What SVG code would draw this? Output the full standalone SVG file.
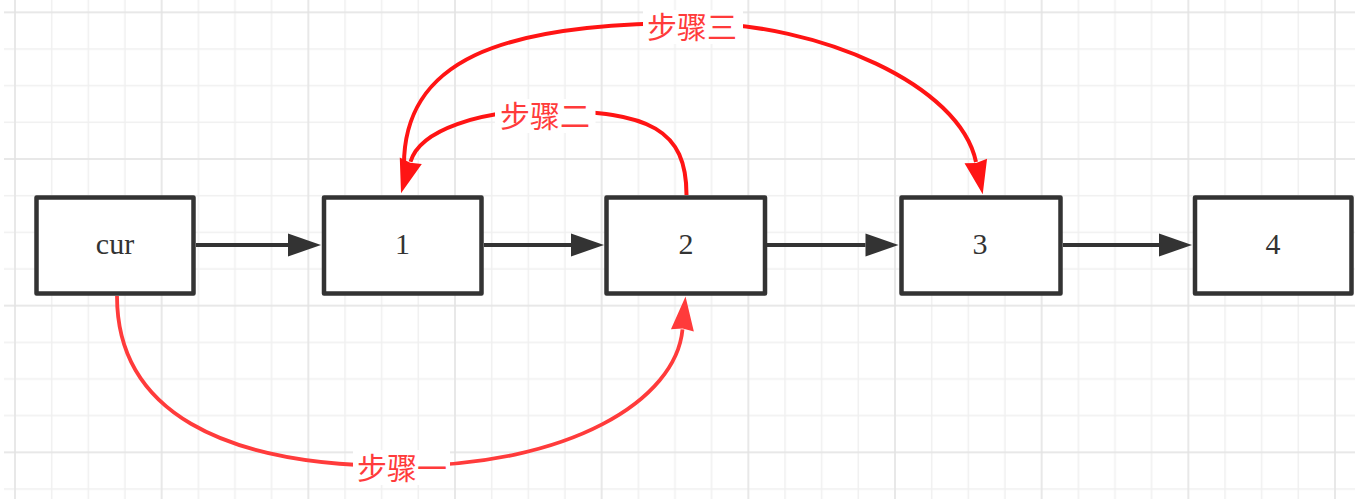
<svg xmlns="http://www.w3.org/2000/svg" width="1355" height="499" viewBox="0 0 1355 499">
<style>
.node rect{fill:#fff;stroke:#333;stroke-width:4.5;stroke-linejoin:round}
.node text{font-family:"Liberation Serif",serif;font-size:30px;fill:#333;text-anchor:middle}
.blk{fill:none;stroke:#333;stroke-width:4}
.red{fill:none;stroke:#ff1414;stroke-width:4}
.red1{fill:none;stroke:#ff3b3b;stroke-width:3.8}
.lbl rect{fill:#fff}
.lbl text{font-family:"Noto Sans CJK SC",sans-serif;font-size:30px;fill:#ff3b3b;text-anchor:middle}
</style>
<defs>
<pattern id="grid" patternUnits="userSpaceOnUse" x="14" y="11.333" width="146.667" height="146.667">
<path d="M1,0V146.667M37.667,0V146.667M74.333,0V146.667M111,0V146.667M0,1H146.667M0,37.667H146.667M0,74.333H146.667M0,111H146.667" stroke="#f0f0f0" stroke-width="1.5" fill="none"/>
<path d="M1,0V146.667M0,1H146.667" stroke="#e4e4e4" stroke-width="1.5" fill="none"/>
</pattern>
<marker id="ab" markerUnits="userSpaceOnUse" markerWidth="34" markerHeight="24" refX="0" refY="11.5" orient="auto" overflow="visible">
<path d="M0,0 L33,11.5 L0,23 z" fill="#333"/>
</marker>
<marker id="ar" markerUnits="userSpaceOnUse" markerWidth="35" markerHeight="24" refX="1" refY="11.5" orient="auto" overflow="visible">
<path d="M0,0 L34,11.5 L0,23 L2,11.5 z" fill="#ff1414"/>
</marker>
<marker id="ar1" markerUnits="userSpaceOnUse" markerWidth="35" markerHeight="24" refX="1" refY="11.5" orient="auto" overflow="visible">
<path d="M0,0 L34,11.5 L0,23 L2,11.5 z" fill="#ff3b3b"/>
</marker>
</defs>
<rect x="0" y="0" width="1355" height="499" fill="#fff"/>
<rect x="4" y="0" width="1351" height="499" fill="url(#grid)"/>

<g id="node-cur" class="node"><rect x="36.5" y="197.5" width="157" height="96"/><text x="115" y="254">cur</text></g>
<g id="node-1" class="node"><rect x="324" y="197.5" width="157.5" height="96"/><text x="402.5" y="254">1</text></g>
<g id="node-2" class="node"><rect x="606.5" y="197.5" width="158.5" height="96"/><text x="686" y="254">2</text></g>
<g id="node-3" class="node"><rect x="901.5" y="197.5" width="159" height="96"/><text x="980" y="254">3</text></g>
<g id="node-4" class="node"><rect x="1195" y="197.5" width="156.5" height="96"/><text x="1273" y="254">4</text></g>

<g id="connectors">
<path class="blk" d="M196,245 H288" marker-end="url(#ab)"/>
<path class="blk" d="M484,245 H571" marker-end="url(#ab)"/>
<path class="blk" d="M767,245 H865.5" marker-end="url(#ab)"/>
<path class="blk" d="M1063,245 H1159" marker-end="url(#ab)"/>
<path class="red1" d="M117,296 C117,410 220,466 400,466 C570,466 676,400 682.5,329.4" marker-end="url(#ar1)"/>
<path class="red" d="M404,170 C401,60 500,23 692,23 C820,23 960,85 976,162" marker-end="url(#ar)"/>
<path class="red" d="M686.5,195 C686.5,130 650,111 548,111 C480,110 420,130 410.5,161.7" marker-end="url(#ar)"/>
<g class="lbl">
<rect x="643" y="10" width="100" height="34"/><text x="692" y="38">步骤三</text>
<rect x="495" y="99" width="100.5" height="34"/><text x="545" y="127">步骤二</text>
<rect x="353" y="450" width="97" height="35"/><text x="402" y="478.5">步骤一</text>
</g>
</g>
</svg>
